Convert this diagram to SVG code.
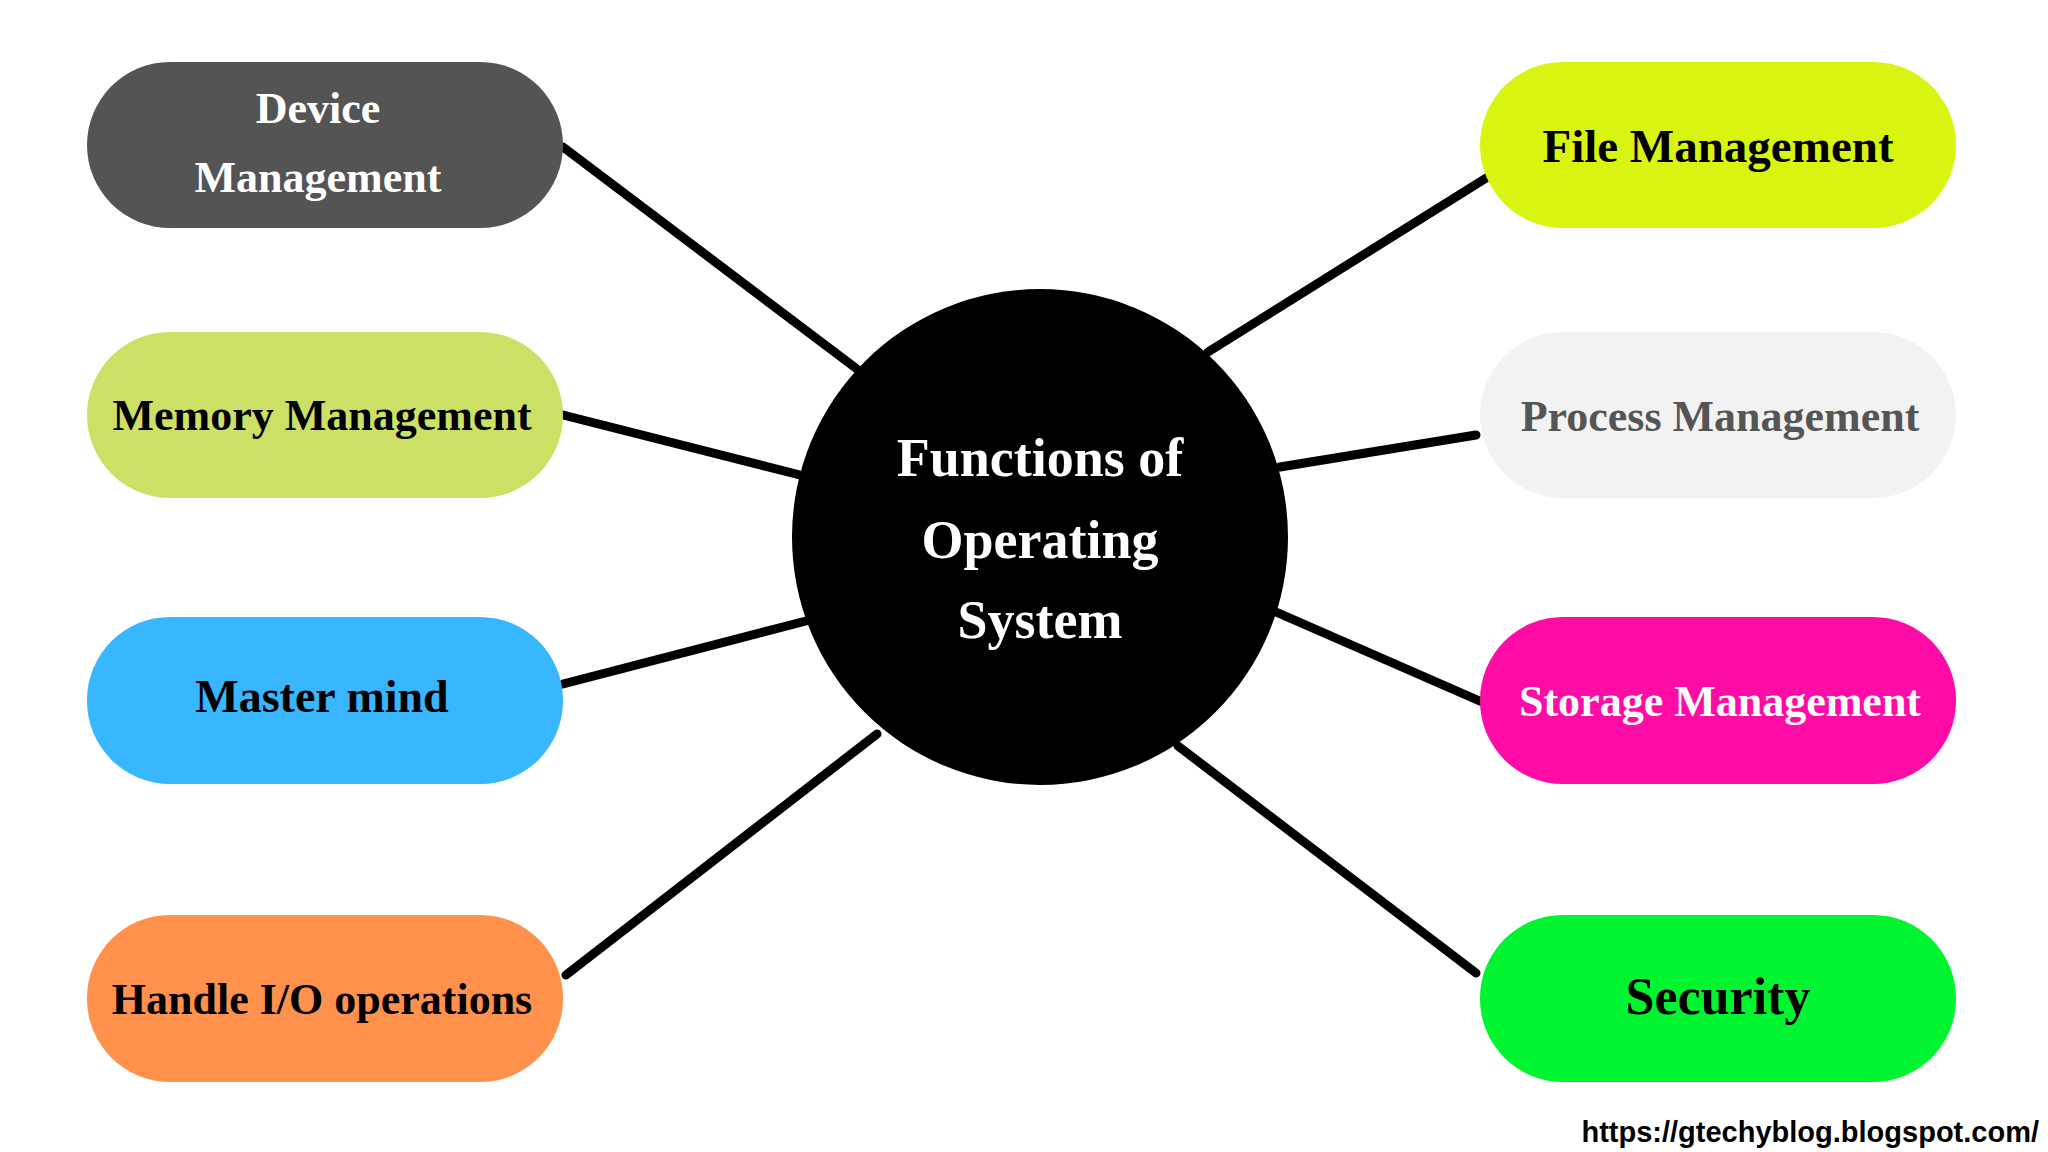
<svg xmlns="http://www.w3.org/2000/svg" width="2048" height="1152" viewBox="0 0 2048 1152">
<style>
.l{stroke:#000;stroke-width:9;stroke-linecap:round}
.t{font-family:"Liberation Serif",serif;font-weight:bold;font-size:44px;text-anchor:middle;dominant-baseline:central}
</style>
<rect width="2048" height="1152" fill="#fff"/>
<g id="connectors">
<line class="l" x1="563" y1="147" x2="857" y2="369"/>
<line class="l" x1="563" y1="415" x2="800" y2="475"/>
<line class="l" x1="563" y1="684" x2="806" y2="621"/>
<line class="l" x1="566" y1="975" x2="877" y2="734"/>
<line class="l" x1="1491" y1="175" x2="1208" y2="352"/>
<line class="l" x1="1476" y1="435" x2="1280" y2="467"/>
<line class="l" x1="1482" y1="702" x2="1276" y2="612"/>
<line class="l" x1="1476" y1="973" x2="1178" y2="746"/>
</g>
<g id="center"><circle cx="1040" cy="537" r="248" fill="#000"/>
<text class="t" fill="#fff" style="font-size:54px" x="1040" y="458">Functions of</text>
<text class="t" fill="#fff" style="font-size:54px" x="1040" y="540">Operating</text>
<text class="t" fill="#fff" style="font-size:54px" x="1040" y="620">System</text></g>
<g id="device"><rect x="87" y="62" width="476" height="166" rx="83" fill="#545454"/>
<text class="t" fill="#fff" x="318" y="108">Device</text><text class="t" fill="#fff" x="318" y="177">Management</text></g>
<g id="memory"><rect x="87" y="332" width="476" height="166" rx="83" fill="#cde066"/>
<text class="t" fill="#000" x="322" y="415">Memory Management</text></g>
<g id="master"><rect x="87" y="617" width="476" height="167" rx="83" fill="#38b6ff"/>
<text class="t" fill="#000" x="322" y="696" style="font-size:46px">Master mind</text></g>
<g id="handle"><rect x="87" y="915" width="476" height="167" rx="83" fill="#ff914d"/>
<text class="t" fill="#000" x="322" y="999">Handle I/O operations</text></g>
<g id="file"><rect x="1480" y="62" width="476" height="166" rx="83" fill="#d8f511"/>
<text class="t" fill="#000" x="1718" y="146" style="font-size:47px">File Management</text></g>
<g id="process"><rect x="1480" y="332" width="476" height="166" rx="83" fill="#f2f2f2"/>
<text class="t" fill="#555" x="1720" y="416">Process Management</text></g>
<g id="storage"><rect x="1480" y="617" width="476" height="167" rx="83" fill="#ff0ca7"/>
<text class="t" fill="#fff" x="1720" y="701">Storage Management</text></g>
<g id="security"><rect x="1480" y="915" width="476" height="167" rx="83" fill="#00f530"/>
<text class="t" fill="#000" x="1718" y="996" style="font-size:52px">Security</text></g>
<text x="2039" y="1132" text-anchor="end" font-family="Liberation Sans,sans-serif" font-weight="bold" font-size="29" fill="#000" dominant-baseline="central">https://gtechyblog.blogspot.com/</text>
</svg>
